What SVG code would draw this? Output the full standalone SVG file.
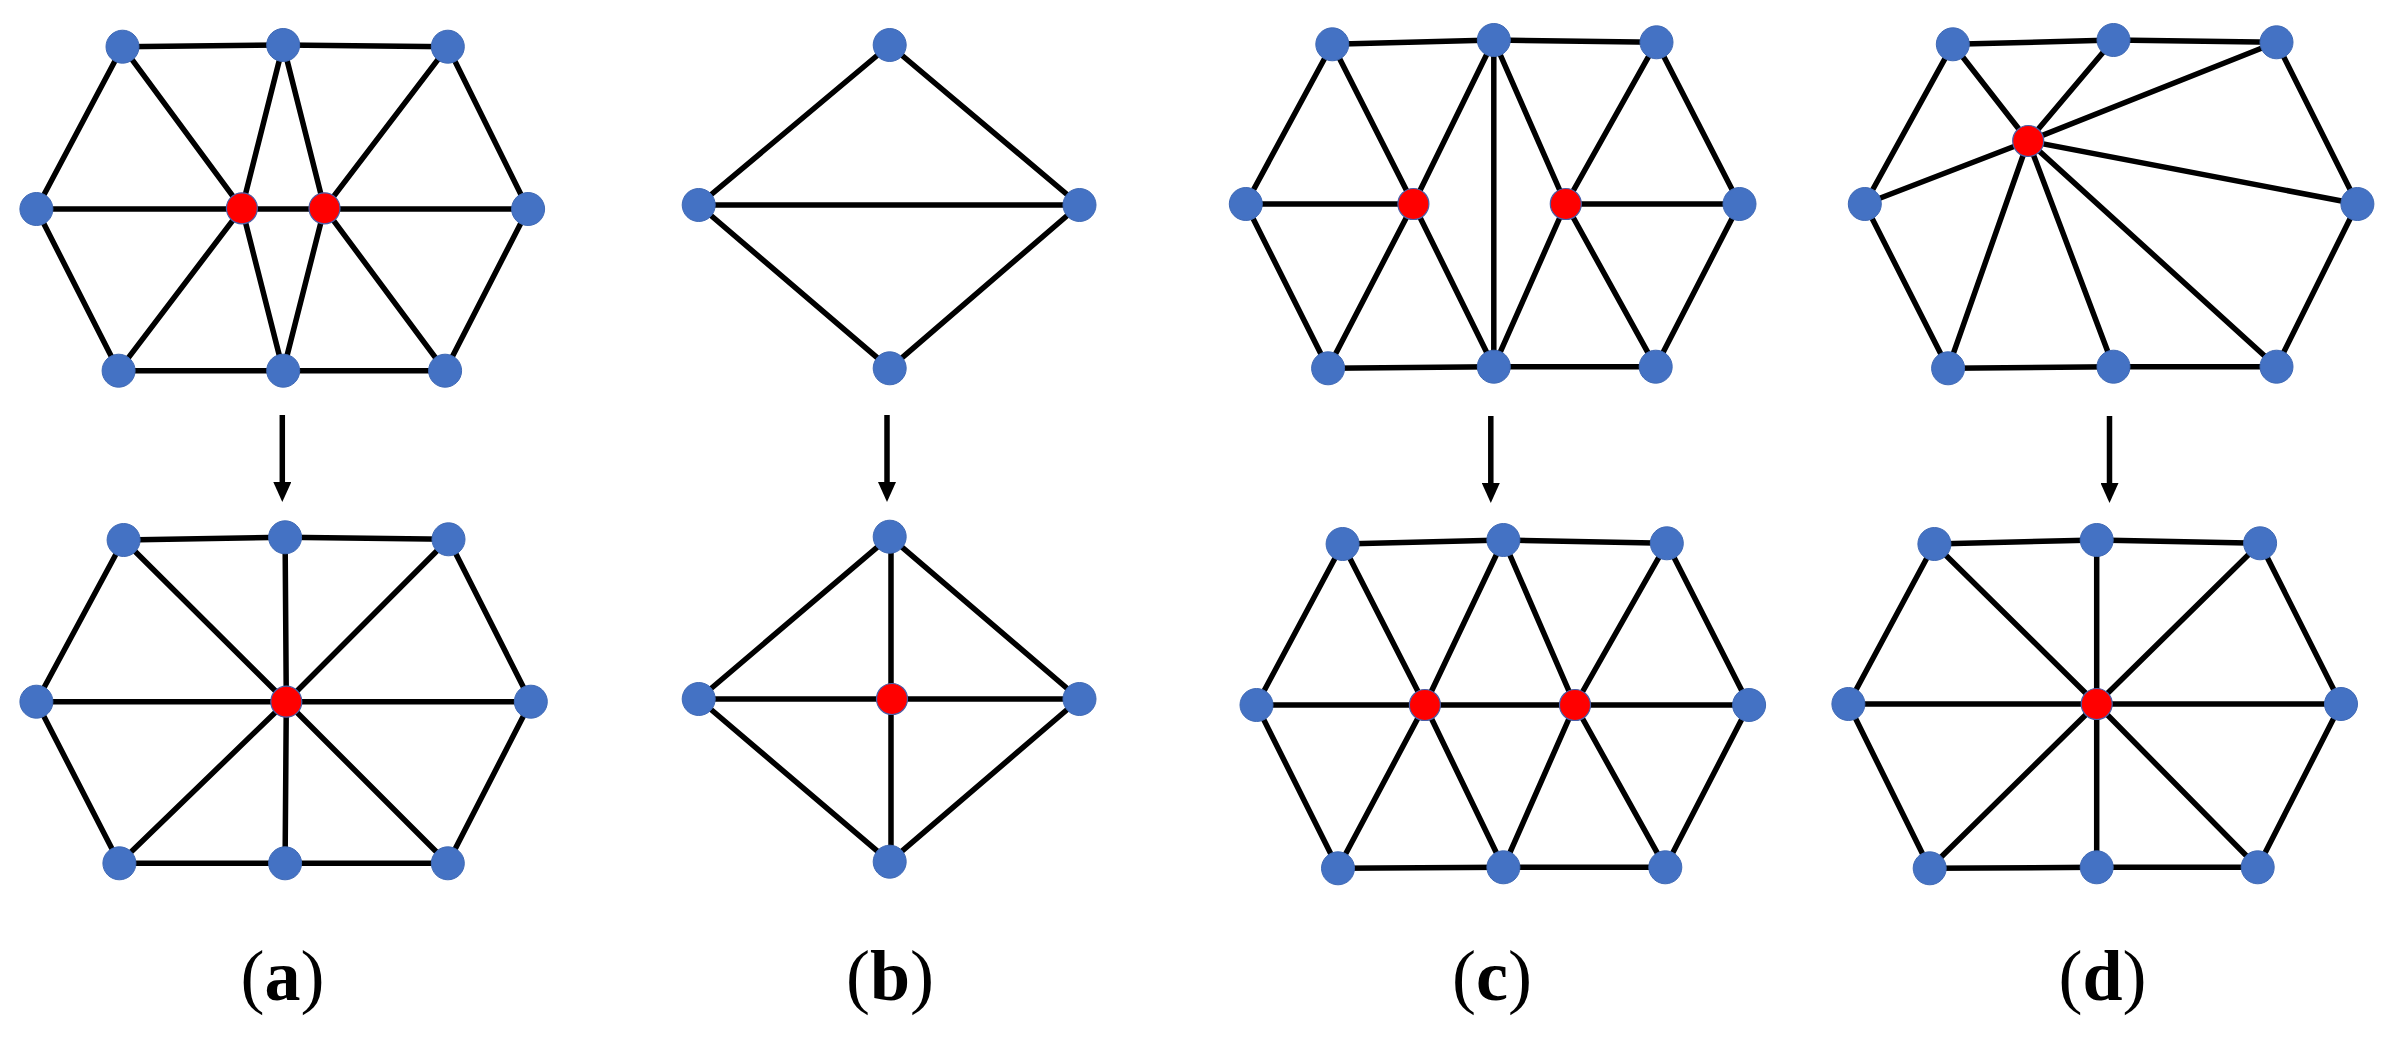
<svg xmlns="http://www.w3.org/2000/svg" width="2393" height="1044" viewBox="0 0 2393 1044">
<style>
.e{stroke:#000;stroke-width:5.5;stroke-linecap:round;fill:none}
.b{fill:#4472C4;stroke:#3f69b5;stroke-width:1}
.r{fill:#FF0000;stroke:#4a5fa8;stroke-width:1.2}
.ar{stroke:#000;stroke-width:5.5;fill:none}
.lbl{font-family:"Liberation Serif","Times New Roman",serif;font-size:72px;fill:#000}
</style>
<defs>
<marker id="ah" viewBox="0 0 20 18" refX="10" refY="9" markerWidth="20" markerHeight="18" markerUnits="userSpaceOnUse" orient="auto">
<path d="M0,0 L20,9 L0,18 z" fill="#000"/>
</marker>
</defs>
<rect width="2393" height="1044" fill="#fff"/>

<g id="connectors">
<g id="edges-a-top" class="e">
<line x1="122.5" y1="46.7" x2="283.2" y2="45"/>
<line x1="283.2" y1="45" x2="447.8" y2="46.7"/>
<line x1="122.5" y1="46.7" x2="36.4" y2="209"/>
<line x1="36.4" y1="209" x2="118.6" y2="370.7"/>
<line x1="118.6" y1="370.7" x2="283.2" y2="370.7"/>
<line x1="283.2" y1="370.7" x2="445.1" y2="370.7"/>
<line x1="445.1" y1="370.7" x2="528.1" y2="209"/>
<line x1="528.1" y1="209" x2="447.8" y2="46.7"/>
<line x1="122.5" y1="46.7" x2="241.9" y2="208.3"/>
<line x1="283.2" y1="45" x2="241.9" y2="208.3"/>
<line x1="283.2" y1="45" x2="324.5" y2="208.3"/>
<line x1="447.8" y1="46.7" x2="324.5" y2="208.3"/>
<line x1="36.4" y1="209" x2="528.1" y2="209"/>
<line x1="118.6" y1="370.7" x2="241.9" y2="208.3"/>
<line x1="283.2" y1="370.7" x2="241.9" y2="208.3"/>
<line x1="283.2" y1="370.7" x2="324.5" y2="208.3"/>
<line x1="445.1" y1="370.7" x2="324.5" y2="208.3"/>
</g>
<g id="edges-a-bot" class="e">
<line x1="123.6" y1="540" x2="285.1" y2="537.3"/>
<line x1="285.1" y1="537.3" x2="448.5" y2="539.3"/>
<line x1="123.6" y1="540" x2="36.4" y2="701.7"/>
<line x1="36.4" y1="701.7" x2="119.4" y2="863.3"/>
<line x1="119.4" y1="863.3" x2="285.1" y2="863.3"/>
<line x1="285.1" y1="863.3" x2="447.8" y2="863.3"/>
<line x1="447.8" y1="863.3" x2="530.8" y2="701.7"/>
<line x1="530.8" y1="701.7" x2="448.5" y2="539.3"/>
<line x1="123.6" y1="540" x2="286.3" y2="701.7"/>
<line x1="285.1" y1="537.3" x2="286.3" y2="701.7"/>
<line x1="448.5" y1="539.3" x2="286.3" y2="701.7"/>
<line x1="36.4" y1="701.7" x2="530.8" y2="701.7"/>
<line x1="119.4" y1="863.3" x2="286.3" y2="701.7"/>
<line x1="285.1" y1="863.3" x2="286.3" y2="701.7"/>
<line x1="447.8" y1="863.3" x2="286.3" y2="701.7"/>
</g>
<g id="edges-b-top" class="e">
<line x1="889.7" y1="45" x2="698.7" y2="205"/>
<line x1="889.7" y1="45" x2="1079.5" y2="205"/>
<line x1="698.7" y1="205" x2="1079.5" y2="205"/>
<line x1="698.7" y1="205" x2="889.7" y2="368.3"/>
<line x1="1079.5" y1="205" x2="889.7" y2="368.3"/>
</g>
<g id="edges-b-bot" class="e">
<line x1="889.7" y1="536.7" x2="698.7" y2="699"/>
<line x1="889.7" y1="536.7" x2="1079.5" y2="699"/>
<line x1="698.7" y1="699" x2="1079.5" y2="699"/>
<line x1="698.7" y1="699" x2="889.7" y2="861.7"/>
<line x1="1079.5" y1="699" x2="889.7" y2="861.7"/>
<line x1="891" y1="536.7" x2="891" y2="861.7"/>
</g>
<g id="edges-c-top" class="e">
<line x1="1332.3" y1="44.3" x2="1493.8" y2="40"/>
<line x1="1493.8" y1="40" x2="1656.5" y2="42.3"/>
<line x1="1332.3" y1="44.3" x2="1245.8" y2="204"/>
<line x1="1245.8" y1="204" x2="1328.1" y2="368.3"/>
<line x1="1328.1" y1="368.3" x2="1493.8" y2="366.7"/>
<line x1="1493.8" y1="366.7" x2="1655.7" y2="366.7"/>
<line x1="1655.7" y1="366.7" x2="1739.5" y2="204"/>
<line x1="1739.5" y1="204" x2="1656.5" y2="42.3"/>
<line x1="1332.3" y1="44.3" x2="1413.4" y2="204"/>
<line x1="1245.8" y1="204" x2="1413.4" y2="204"/>
<line x1="1328.1" y1="368.3" x2="1413.4" y2="204"/>
<line x1="1493.8" y1="40" x2="1413.4" y2="204"/>
<line x1="1493.8" y1="366.7" x2="1413.4" y2="204"/>
<line x1="1493.8" y1="40" x2="1493.8" y2="366.7"/>
<line x1="1493.8" y1="40" x2="1565.8" y2="204"/>
<line x1="1493.8" y1="366.7" x2="1565.8" y2="204"/>
<line x1="1656.5" y1="42.3" x2="1565.8" y2="204"/>
<line x1="1739.5" y1="204" x2="1565.8" y2="204"/>
<line x1="1655.7" y1="366.7" x2="1565.8" y2="204"/>
</g>
<g id="edges-c-bot" class="e">
<line x1="1342.6" y1="544" x2="1503.4" y2="540"/>
<line x1="1503.4" y1="540" x2="1666.8" y2="543.3"/>
<line x1="1342.6" y1="544" x2="1256.5" y2="705"/>
<line x1="1256.5" y1="705" x2="1338" y2="868.3"/>
<line x1="1338" y1="868.3" x2="1503.4" y2="867.3"/>
<line x1="1503.4" y1="867.3" x2="1665.3" y2="867.3"/>
<line x1="1665.3" y1="867.3" x2="1749.1" y2="705"/>
<line x1="1749.1" y1="705" x2="1666.8" y2="543.3"/>
<line x1="1342.6" y1="544" x2="1424.9" y2="705"/>
<line x1="1256.5" y1="705" x2="1749.1" y2="705"/>
<line x1="1338" y1="868.3" x2="1424.9" y2="705"/>
<line x1="1503.4" y1="540" x2="1424.9" y2="705"/>
<line x1="1503.4" y1="867.3" x2="1424.9" y2="705"/>
<line x1="1503.4" y1="540" x2="1575" y2="705"/>
<line x1="1503.4" y1="867.3" x2="1575" y2="705"/>
<line x1="1666.8" y1="543.3" x2="1575" y2="705"/>
<line x1="1665.3" y1="867.3" x2="1575" y2="705"/>
</g>
<g id="edges-d-top" class="e">
<line x1="1952.8" y1="44.3" x2="2113.5" y2="40"/>
<line x1="2113.5" y1="40" x2="2276.5" y2="42.3"/>
<line x1="1952.8" y1="44.3" x2="1864.8" y2="204"/>
<line x1="1864.8" y1="204" x2="1948.1" y2="368.3"/>
<line x1="1948.1" y1="368.3" x2="2113.5" y2="366.7"/>
<line x1="2113.5" y1="366.7" x2="2276.5" y2="366.7"/>
<line x1="2276.5" y1="366.7" x2="2357.4" y2="204"/>
<line x1="2357.4" y1="204" x2="2276.5" y2="42.3"/>
<line x1="2028.2" y1="141" x2="1952.8" y2="44.3"/>
<line x1="2028.2" y1="141" x2="2113.5" y2="40"/>
<line x1="2028.2" y1="141" x2="2276.5" y2="42.3"/>
<line x1="2028.2" y1="141" x2="1864.8" y2="204"/>
<line x1="2028.2" y1="141" x2="2357.4" y2="204"/>
<line x1="2028.2" y1="141" x2="1948.1" y2="368.3"/>
<line x1="2028.2" y1="141" x2="2113.5" y2="366.7"/>
<line x1="2028.2" y1="141" x2="2276.5" y2="366.7"/>
</g>
<g id="edges-d-bot" class="e">
<line x1="1934.4" y1="544" x2="2096.7" y2="540"/>
<line x1="2096.7" y1="540" x2="2260.1" y2="543.3"/>
<line x1="1934.4" y1="544" x2="1848.4" y2="704"/>
<line x1="1848.4" y1="704" x2="1929.7" y2="868.3"/>
<line x1="1929.7" y1="868.3" x2="2096.7" y2="867.3"/>
<line x1="2096.7" y1="867.3" x2="2257.7" y2="867.3"/>
<line x1="2257.7" y1="867.3" x2="2341" y2="704"/>
<line x1="2341" y1="704" x2="2260.1" y2="543.3"/>
<line x1="2096.7" y1="704" x2="1934.4" y2="544"/>
<line x1="2096.7" y1="540" x2="2096.7" y2="867.3"/>
<line x1="2096.7" y1="704" x2="2260.1" y2="543.3"/>
<line x1="1848.4" y1="704" x2="2341" y2="704"/>
<line x1="2096.7" y1="704" x2="1929.7" y2="868.3"/>
<line x1="2096.7" y1="704" x2="2257.7" y2="867.3"/>
</g>
<g id="arrows" class="ar">
<line x1="282.3" y1="415" x2="282.3" y2="492" marker-end="url(#ah)"/>
<line x1="887" y1="415" x2="887" y2="492" marker-end="url(#ah)"/>
<line x1="1490.8" y1="416" x2="1490.8" y2="493" marker-end="url(#ah)"/>
<line x1="2109.5" y1="416" x2="2109.5" y2="493" marker-end="url(#ah)"/>
</g>
</g>

<g id="nodes">
<g id="a1-tl"><circle class="b" cx="122.5" cy="46.7" r="16.5"/></g>
<g id="a1-tm"><circle class="b" cx="283.2" cy="45" r="16.5"/></g>
<g id="a1-tr"><circle class="b" cx="447.8" cy="46.7" r="16.5"/></g>
<g id="a1-ml"><circle class="b" cx="36.4" cy="209" r="16.5"/></g>
<g id="a1-r1"><circle class="r" cx="241.9" cy="208.3" r="15.5"/></g>
<g id="a1-r2"><circle class="r" cx="324.5" cy="208.3" r="15.5"/></g>
<g id="a1-mr"><circle class="b" cx="528.1" cy="209" r="16.5"/></g>
<g id="a1-bl"><circle class="b" cx="118.6" cy="370.7" r="16.5"/></g>
<g id="a1-bm"><circle class="b" cx="283.2" cy="370.7" r="16.5"/></g>
<g id="a1-br"><circle class="b" cx="445.1" cy="370.7" r="16.5"/></g>
<g id="a2-tl"><circle class="b" cx="123.6" cy="540" r="16.5"/></g>
<g id="a2-tm"><circle class="b" cx="285.1" cy="537.3" r="16.5"/></g>
<g id="a2-tr"><circle class="b" cx="448.5" cy="539.3" r="16.5"/></g>
<g id="a2-ml"><circle class="b" cx="36.4" cy="701.7" r="16.5"/></g>
<g id="a2-c"><circle class="r" cx="286.3" cy="701.7" r="15.5"/></g>
<g id="a2-mr"><circle class="b" cx="530.8" cy="701.7" r="16.5"/></g>
<g id="a2-bl"><circle class="b" cx="119.4" cy="863.3" r="16.5"/></g>
<g id="a2-bm"><circle class="b" cx="285.1" cy="863.3" r="16.5"/></g>
<g id="a2-br"><circle class="b" cx="447.8" cy="863.3" r="16.5"/></g>
<g id="b1-t"><circle class="b" cx="889.7" cy="45" r="16.5"/></g>
<g id="b1-l"><circle class="b" cx="698.7" cy="205" r="16.5"/></g>
<g id="b1-r"><circle class="b" cx="1079.5" cy="205" r="16.5"/></g>
<g id="b1-b"><circle class="b" cx="889.7" cy="368.3" r="16.5"/></g>
<g id="b2-t"><circle class="b" cx="889.7" cy="536.7" r="16.5"/></g>
<g id="b2-l"><circle class="b" cx="698.7" cy="699" r="16.5"/></g>
<g id="b2-c"><circle class="r" cx="892" cy="699" r="15.5"/></g>
<g id="b2-r"><circle class="b" cx="1079.5" cy="699" r="16.5"/></g>
<g id="b2-b"><circle class="b" cx="889.7" cy="861.7" r="16.5"/></g>
<g id="c1-tl"><circle class="b" cx="1332.3" cy="44.3" r="16.5"/></g>
<g id="c1-tm"><circle class="b" cx="1493.8" cy="40" r="16.5"/></g>
<g id="c1-tr"><circle class="b" cx="1656.5" cy="42.3" r="16.5"/></g>
<g id="c1-ml"><circle class="b" cx="1245.8" cy="204" r="16.5"/></g>
<g id="c1-r1"><circle class="r" cx="1413.4" cy="204" r="15.5"/></g>
<g id="c1-r2"><circle class="r" cx="1565.8" cy="204" r="15.5"/></g>
<g id="c1-mr"><circle class="b" cx="1739.5" cy="204" r="16.5"/></g>
<g id="c1-bl"><circle class="b" cx="1328.1" cy="368.3" r="16.5"/></g>
<g id="c1-bm"><circle class="b" cx="1493.8" cy="366.7" r="16.5"/></g>
<g id="c1-br"><circle class="b" cx="1655.7" cy="366.7" r="16.5"/></g>
<g id="c2-tl"><circle class="b" cx="1342.6" cy="544" r="16.5"/></g>
<g id="c2-tm"><circle class="b" cx="1503.4" cy="540" r="16.5"/></g>
<g id="c2-tr"><circle class="b" cx="1666.8" cy="543.3" r="16.5"/></g>
<g id="c2-ml"><circle class="b" cx="1256.5" cy="705" r="16.5"/></g>
<g id="c2-r1"><circle class="r" cx="1424.9" cy="705" r="15.5"/></g>
<g id="c2-r2"><circle class="r" cx="1575" cy="705" r="15.5"/></g>
<g id="c2-mr"><circle class="b" cx="1749.1" cy="705" r="16.5"/></g>
<g id="c2-bl"><circle class="b" cx="1338" cy="868.3" r="16.5"/></g>
<g id="c2-bm"><circle class="b" cx="1503.4" cy="867.3" r="16.5"/></g>
<g id="c2-br"><circle class="b" cx="1665.3" cy="867.3" r="16.5"/></g>
<g id="d1-tl"><circle class="b" cx="1952.8" cy="44.3" r="16.5"/></g>
<g id="d1-tm"><circle class="b" cx="2113.5" cy="40" r="16.5"/></g>
<g id="d1-tr"><circle class="b" cx="2276.5" cy="42.3" r="16.5"/></g>
<g id="d1-ml"><circle class="b" cx="1864.8" cy="204" r="16.5"/></g>
<g id="d1-r"><circle class="r" cx="2028.2" cy="141" r="15.5"/></g>
<g id="d1-mr"><circle class="b" cx="2357.4" cy="204" r="16.5"/></g>
<g id="d1-bl"><circle class="b" cx="1948.1" cy="368.3" r="16.5"/></g>
<g id="d1-bm"><circle class="b" cx="2113.5" cy="366.7" r="16.5"/></g>
<g id="d1-br"><circle class="b" cx="2276.5" cy="366.7" r="16.5"/></g>
<g id="d2-tl"><circle class="b" cx="1934.4" cy="544" r="16.5"/></g>
<g id="d2-tm"><circle class="b" cx="2096.7" cy="540" r="16.5"/></g>
<g id="d2-tr"><circle class="b" cx="2260.1" cy="543.3" r="16.5"/></g>
<g id="d2-ml"><circle class="b" cx="1848.4" cy="704" r="16.5"/></g>
<g id="d2-c"><circle class="r" cx="2096.7" cy="704" r="15.5"/></g>
<g id="d2-mr"><circle class="b" cx="2341" cy="704" r="16.5"/></g>
<g id="d2-bl"><circle class="b" cx="1929.7" cy="868.3" r="16.5"/></g>
<g id="d2-bm"><circle class="b" cx="2096.7" cy="867.3" r="16.5"/></g>
<g id="d2-br"><circle class="b" cx="2257.7" cy="867.3" r="16.5"/></g>
</g>

<g id="labels" class="lbl" text-anchor="middle">
<text x="282.5" y="1000">(<tspan font-weight="bold">a</tspan>)</text>
<text x="890" y="1000">(<tspan font-weight="bold">b</tspan>)</text>
<text x="1492" y="1000">(<tspan font-weight="bold">c</tspan>)</text>
<text x="2102.5" y="1000">(<tspan font-weight="bold">d</tspan>)</text>
</g>
</svg>
